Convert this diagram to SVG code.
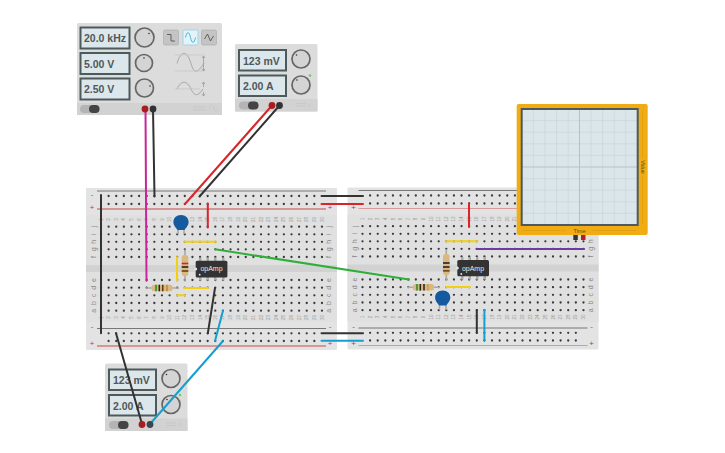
<svg xmlns="http://www.w3.org/2000/svg" xmlns:xlink="http://www.w3.org/1999/xlink" width="725" height="453" viewBox="0 0 725 453">
<style>
.dev{fill:#dcdcdc}
.bar{fill:#d2d2d2}
.disp{fill:#dce7eb;stroke:#4d5a5c;stroke-width:2}
.read{font:bold 10.5px "Liberation Sans",Arial,sans-serif;fill:#50585a}
.knob{fill:#d4d4d4;stroke:#666;stroke-width:1.7}
.dot{fill:#333}
.sw{fill:#b4b4b4}
.swk{fill:#444}
.faint{stroke:#c4c4c4;stroke-width:.7;fill:none}
.ic{stroke:#9a9a9a;stroke-width:.8;fill:none}
.hole{fill:none;stroke:#3a3a3a;stroke-width:2.3;stroke-linecap:round;stroke-dasharray:0 7.62}
.num{font:4.6px "Liberation Sans",Arial,sans-serif;fill:#9a9a9a;text-anchor:middle}
.let{font:7px "Liberation Sans",Arial,sans-serif;fill:#888;text-anchor:middle}
.pm{font:8px "Liberation Sans",Arial,sans-serif;text-anchor:middle}
.w{fill:none;stroke-width:2;stroke-linecap:round}
.bk{stroke:#333}.rd{stroke:#d9252a}.ye{stroke:#f2cf12}.bl{stroke:#159fcf}
.lead{stroke:#a8a8a8;stroke-width:1.6;fill:none}
.body{fill:#d9b981}
.cap{fill:#155a9e}
.ic8{fill:#333}
.pin{fill:#aaa}
.ict{font:7px "Liberation Sans",Arial,sans-serif;fill:#e8e8e8;text-anchor:middle}
.grid{stroke:#c9d6da;stroke-width:.7;fill:none}
.scopet{font:5.5px "Liberation Sans",Arial,sans-serif;fill:#5a4a10;text-anchor:middle}
</style>
<defs>
<g id="nums" class="num">
<text y="102.5">1</text><text y="110.1">2</text><text y="117.7">3</text><text y="125.4">4</text><text y="133">5</text><text y="140.6">6</text><text y="148.2">7</text><text y="155.8">8</text><text y="163.5">9</text><text y="171.1">10</text><text y="178.7">11</text><text y="186.3">12</text><text y="193.9">13</text><text y="201.6">14</text><text y="209.2">15</text><text y="216.8">16</text><text y="224.4">17</text><text y="232">18</text><text y="239.7">19</text><text y="247.3">20</text><text y="254.9">21</text><text y="262.5">22</text><text y="270.1">23</text><text y="277.8">24</text><text y="285.4">25</text><text y="293">26</text><text y="300.6">27</text><text y="308.2">28</text><text y="315.9">29</text><text y="323.5">30</text>
</g>
<g id="board">
<rect x="86" y="188" width="251" height="162" rx="1" fill="#e3e3e3"/>
<rect x="86" y="215" width="251" height="107" fill="#e0e0e0"/>
<rect x="86" y="265" width="251" height="7" fill="#d2d2d2"/>
<path d="M97 191H326M97 328.5H326" stroke="#777" stroke-width="1" fill="none"/>
<path class="hole" d="M108.6 196H316M108.6 204H316M108.6 333.3H316M108.6 341H316"/>
<path class="hole" d="M101 226.7H325M101 234.3H325M101 241.8H325M101 249.3H325M101 257H325M101 280H325M101 287.7H325M101 295.3H325M101 303H325M101 310.7H325"/>
<g transform="translate(0,219.5) rotate(-90)"><use href="#nums" xlink:href="#nums"/></g>
<g transform="translate(0,317.5) rotate(-90)"><use href="#nums" xlink:href="#nums"/></g>
<g class="let">
<text transform="translate(95.5,226.7) rotate(-90)">j</text><text transform="translate(95.5,234.3) rotate(-90)">i</text><text transform="translate(95.5,241.8) rotate(-90)">h</text><text transform="translate(95.5,249.3) rotate(-90)">g</text><text transform="translate(95.5,257) rotate(-90)">f</text>
<text transform="translate(95.5,280) rotate(-90)">e</text><text transform="translate(95.5,287.7) rotate(-90)">d</text><text transform="translate(95.5,295.3) rotate(-90)">c</text><text transform="translate(95.5,303) rotate(-90)">b</text><text transform="translate(95.5,310.7) rotate(-90)">a</text>
<text transform="translate(331,226.7) rotate(-90)">j</text><text transform="translate(331,234.3) rotate(-90)">i</text><text transform="translate(331,241.8) rotate(-90)">h</text><text transform="translate(331,249.3) rotate(-90)">g</text><text transform="translate(331,257) rotate(-90)">f</text>
<text transform="translate(331,280) rotate(-90)">e</text><text transform="translate(331,287.7) rotate(-90)">d</text><text transform="translate(331,295.3) rotate(-90)">c</text><text transform="translate(331,303) rotate(-90)">b</text><text transform="translate(331,310.7) rotate(-90)">a</text>
</g>
<g class="pm">
<text x="92" y="197" fill="#666">-</text><text x="92" y="210" fill="#c33">+</text><text x="92" y="329" fill="#666">-</text><text x="92" y="346" fill="#c33">+</text>
<text x="330" y="197" fill="#666">-</text><text x="330" y="210" fill="#c33">+</text><text x="330" y="329" fill="#666">-</text><text x="330" y="346" fill="#c33">+</text>
</g>
</g>
<g id="supply">
<rect class="dev" x="235" y="44" width="82.5" height="67.5" rx="1.5"/>
<rect class="bar" x="235" y="99" width="82.5" height="12.5"/>
<rect class="disp" x="239" y="50" width="47" height="20.5"/>
<rect class="disp" x="239" y="75.5" width="47" height="20.5"/>
<text class="read" x="243" y="64.5">123 mV</text>
<text class="read" x="243" y="90">2.00 A</text>
<circle class="knob" cx="301" cy="59" r="9"/><circle class="dot" cx="296.5" cy="55" r=".8"/>
<circle class="knob" cx="301" cy="85" r="9"/><circle class="dot" cx="297" cy="80" r=".8"/>
<circle cx="310" cy="75.5" r="1.2" fill="#5fd04a"/>
<path class="faint" d="M296 103.5H306M296 106H306M310 103L309 107"/>
<rect class="sw" x="239" y="101.5" width="19.5" height="8" rx="4"/>
<rect class="swk" x="248" y="101.5" width="10.5" height="8" rx="4"/>
</g>
<path id="capshape" d="M0-7.6C4.6-7.6 7.6-4.4 7.6-.6C7.6 3 5 5.2 3.4 7.4H-3.4C-5 5.2-7.6 3-7.6-.6C-7.6-4.4-4.6-7.6 0-7.6Z"/>
</defs>

<rect width="725" height="453" fill="#fff"/>

<g id="breadboard-left">
<use href="#board" xlink:href="#board"/>
<path d="M97 209H326M97 346H326" stroke="#c84a4a" stroke-width="1.2" fill="none"/>
</g>
<g id="breadboard-right" transform="translate(261.5,-.5)">
<use href="#board" xlink:href="#board"/>
<path d="M97 209H326M97 346H326" stroke="#d89a9a" stroke-width="1.2" fill="none"/>
</g>

<g id="function-generator">
<rect class="dev" x="77" y="23" width="145" height="92" rx="1.5"/>
<rect class="bar" x="77" y="103" width="145" height="12"/>
<rect class="disp" x="80.5" y="27.5" width="49" height="21"/>
<rect class="disp" x="80.5" y="53" width="49" height="21"/>
<rect class="disp" x="80.5" y="78.5" width="49" height="21"/>
<text class="read" x="84" y="42">20.0 kHz</text>
<text class="read" x="84" y="67.5">5.00 V</text>
<text class="read" x="84" y="93">2.50 V</text>
<circle class="knob" cx="144.5" cy="37.5" r="9.5"/><circle class="dot" cx="149" cy="33.5" r=".8"/>
<circle class="knob" cx="144" cy="63" r="8.5"/><circle class="dot" cx="144" cy="58" r=".8"/>
<circle class="knob" cx="144.5" cy="88" r="9"/><circle class="dot" cx="150" cy="86" r=".8"/>
<rect x="163.5" y="30" width="15" height="15" rx="1.5" fill="#c4c4c4" stroke="#aaa" stroke-width=".6"/>
<path d="M167 34.5H171V41H175" fill="none" stroke="#555" stroke-width=".9"/>
<rect x="183" y="30" width="15" height="15" rx="1.5" fill="#e3f3f8" stroke="#8fd0e6" stroke-width=".8"/>
<path d="M185.5 37.5C187 31 189 31 190.5 37.5C192 44 194 44 195.5 37.5" fill="none" stroke="#27a6d6" stroke-width=".8"/>
<rect x="201.5" y="30" width="15" height="15" rx="1.5" fill="#c4c4c4" stroke="#aaa" stroke-width=".6"/>
<path d="M204.5 39L207.5 34L210.5 41L213.5 36" fill="none" stroke="#555" stroke-width=".9"/>
<path class="ic" d="M177 63.5C181 50 187 50 191 63.5C195 77 199 70 204 63.5"/>
<path class="faint" d="M175 55H205M175 71H205"/>
<path class="ic" d="M203.5 56V71M202 58L203.5 56L205 58M202 69L203.5 71L205 69"/>
<path class="ic" d="M177 89C181 80 187 80 191 89C195 98 199 95 203 89"/>
<path class="faint" d="M175 89H200"/>
<path class="ic" d="M203.5 82V87M203.5 92V96M202 84L203.5 82L205 84M202 94L203.5 96L205 94"/>
<rect class="sw" x="80" y="105" width="19.500" height="8" rx="4"/>
<rect class="swk" x="89" y="105" width="10.500" height="8" rx="4"/>
<path class="faint" d="M193 107H206M193 110H206M209 109C211 104 213 104 214 109C215 112 217 112 219 109"/>
</g>

<g id="supply-top"><use href="#supply" xlink:href="#supply"/></g>
<g id="supply-bottom" transform="translate(-130,319.5)"><use href="#supply" xlink:href="#supply"/></g>

<g id="oscilloscope">
<rect x="516.7" y="104" width="131" height="131" rx="2" fill="#f2ac13"/>
<rect x="521.7" y="109" width="116" height="116" fill="#dbe6ea"/>
<path class="grid" d="M533.3 109V225M545 109V225M556.600 109V225M568.200 109V225M591 109V225M602.600 109V225M614.200 109V225M625.800 109V225M521.700 120.600H637.700M521.700 132.200H637.700M521.700 143.800H637.700M521.700 155.400H637.700M521.700 178.600H637.700M521.700 190.200H637.700M521.700 201.800H637.700M521.700 213.400H637.700"/>
<path d="M579.500 109V225M521.700 167H637.700" stroke="#b4c2c6" stroke-width="1" fill="none"/>
<rect x="521.700" y="109" width="116" height="116" fill="none" stroke="#4c5a60" stroke-width="2"/>
<text class="scopet" x="579.500" y="232.500">Time</text>
<text class="scopet" transform="translate(641,167) rotate(90)">Value</text>
<path d="M523 230.500H566M593 230.500H636M642.500 110V158M642.500 176V224" stroke="#d99a10" stroke-width=".6" fill="none"/>
<rect x="573.300" y="235" width="4.500" height="5" fill="#333"/>
<rect x="581" y="235" width="4.500" height="5" fill="#b81f1f"/>
</g>

<g id="cap-left">
<path class="lead" d="M178 229V234M184 229V234"/>
<use href="#capshape" xlink:href="#capshape" class="cap" transform="translate(181,222.500)"/>
</g>
<g id="cap-right">
<path class="lead" d="M439.500 304V310M446 304V310"/>
<use href="#capshape" xlink:href="#capshape" class="cap" transform="translate(442.700,298)"/>
</g>

<g id="res-left-v">
<path class="lead" d="M185 249.500V281.500"/>
<rect class="body" x="181.700" y="255" width="6.600" height="21" rx="2.500"/>
<path d="M181.700 263.500H188.300" stroke="#d22" stroke-width="1.600"/><path d="M181.700 267H188.300" stroke="#222" stroke-width="1.600"/><path d="M181.700 271H188.300" stroke="#7a4a1e" stroke-width="1.800"/>
</g>
<g id="res-left-h">
<path class="lead" d="M146 288H179"/>
<rect class="body" x="151.500" y="284.700" width="21" height="6.600" rx="2.500"/>
<path d="M156 284.700V291.300" stroke="#3a9a2a" stroke-width="1.800"/><path d="M159.300 284.700V291.300" stroke="#222" stroke-width="1.500"/><path d="M162.700 284.700V291.300" stroke="#5a3415" stroke-width="1.500"/><path d="M167 284.700V291.300" stroke="#b98a3a" stroke-width="1.500"/>
</g>
<g id="res-right-v">
<path class="lead" d="M446.300 249V281"/>
<rect class="body" x="443" y="254" width="6.600" height="21" rx="2.500"/>
<path d="M443 263H449.600" stroke="#222" stroke-width="1.600"/><path d="M443 267H449.600" stroke="#222" stroke-width="1.600"/><path d="M443 270.800H449.600" stroke="#7a4a1e" stroke-width="1.800"/>
</g>
<g id="res-right-h">
<path class="lead" d="M407 287.300H440"/>
<rect class="body" x="413" y="284" width="21" height="6.600" rx="2.500"/>
<path d="M417 284V290.600" stroke="#3a9a2a" stroke-width="1.800"/><path d="M420.300 284V290.600" stroke="#222" stroke-width="1.500"/><path d="M424 284V290.600" stroke="#222" stroke-width="1.500"/><path d="M428 284V290.600" stroke="#b98a3a" stroke-width="1"/>
</g>

<g id="opamp-left">
<path class="pin" d="M199 257.500H201.500V261H199ZM206.500 257.500H209V261H206.500ZM214 257.500H216.500V261H214ZM222 257.500H224.500V261H222ZM199 277H201.500V280.500H199ZM206.500 277H209V280.500H206.500ZM214 277H216.500V280.500H214ZM222 277H224.500V280.500H222Z"/>
<rect class="ic8" x="195.700" y="260.700" width="31.700" height="16.700" rx="1.500"/>
<circle cx="195.700" cy="269" r="1.500" fill="#e1e1e1"/><circle cx="199.700" cy="274.700" r=".9" fill="#eee"/>
<text class="ict" x="211.500" y="271">opAmp</text>
</g>
<g id="opamp-right">
<path class="pin" d="M461 257H463.500V260.500H461ZM468.500 257H471V260.500H468.500ZM476 257H478.500V260.500H476ZM483.500 257H486V260.500H483.500ZM461 276H463.500V279.500H461ZM468.500 276H471V279.500H468.500ZM476 276H478.500V279.500H476ZM483.500 276H486V279.500H483.500Z"/>
<rect class="ic8" x="457.300" y="260" width="31.700" height="16.300" rx="1.500"/>
<circle cx="457.300" cy="268" r="1.500" fill="#e1e1e1"/><circle cx="461.300" cy="274" r=".9" fill="#eee"/>
<text class="ict" x="473" y="270.500">opAmp</text>
</g>

<g id="connectors">
<path class="w" stroke="#c9259a" d="M145.500 109L146.500 280.700"/>
<path class="w bk" d="M153 109L154.500 196.500"/>
<path class="w rd" d="M272 105.500L185 204"/>
<path class="w bk" d="M279.500 105.500L199.500 196.500"/>
<path class="w bk" d="M101 195V333.300"/>
<path class="w rd" d="M207.800 203.500V227.500"/>
<path class="w ye" d="M184.500 241.700H216"/>
<path class="w" stroke="#2fae3a" d="M215 249.300L409 279.500"/>
<path class="w ye" d="M177 257V281"/>
<path class="w ye" d="M184.500 288H208"/>
<path class="w ye" d="M177 295.200H185"/>
<path class="w bk" d="M215 288L207.800 333.300"/>
<path class="w bl" d="M223 310.700L215 341"/>
<path class="w bl" d="M150 424L223 341"/>
<path class="w bk" d="M116 333.300L142 424"/>
<path class="w bk" d="M321.500 196H363"/>
<path class="w rd" d="M321.500 204H363"/>
<path class="w bk" d="M321.500 333.200H363"/>
<path class="w bl" d="M321.500 340.700H363"/>
<path class="w rd" d="M469 203.500V227"/>
<path class="w ye" d="M446 241.300H477.500"/>
<path class="w" stroke="#6d3c9e" d="M476.500 249H584"/>
<path class="w ye" d="M446 287H470"/>
<path class="w bk" d="M476.800 310V333"/>
<path class="w bl" d="M484.400 310V340.500"/>
</g>

<g id="terminals">
<circle cx="145" cy="109" r="3.400" fill="#a81c22"/><circle cx="153" cy="109" r="3.400" fill="#333"/>
<circle cx="272" cy="105.500" r="3.400" fill="#a81c22"/><circle cx="279.500" cy="105.500" r="3.400" fill="#333"/>
<circle cx="142" cy="424.500" r="3.400" fill="#a81c22"/><circle cx="150" cy="424.500" r="3.400" fill="#39474f"/>
</g>
</svg>
